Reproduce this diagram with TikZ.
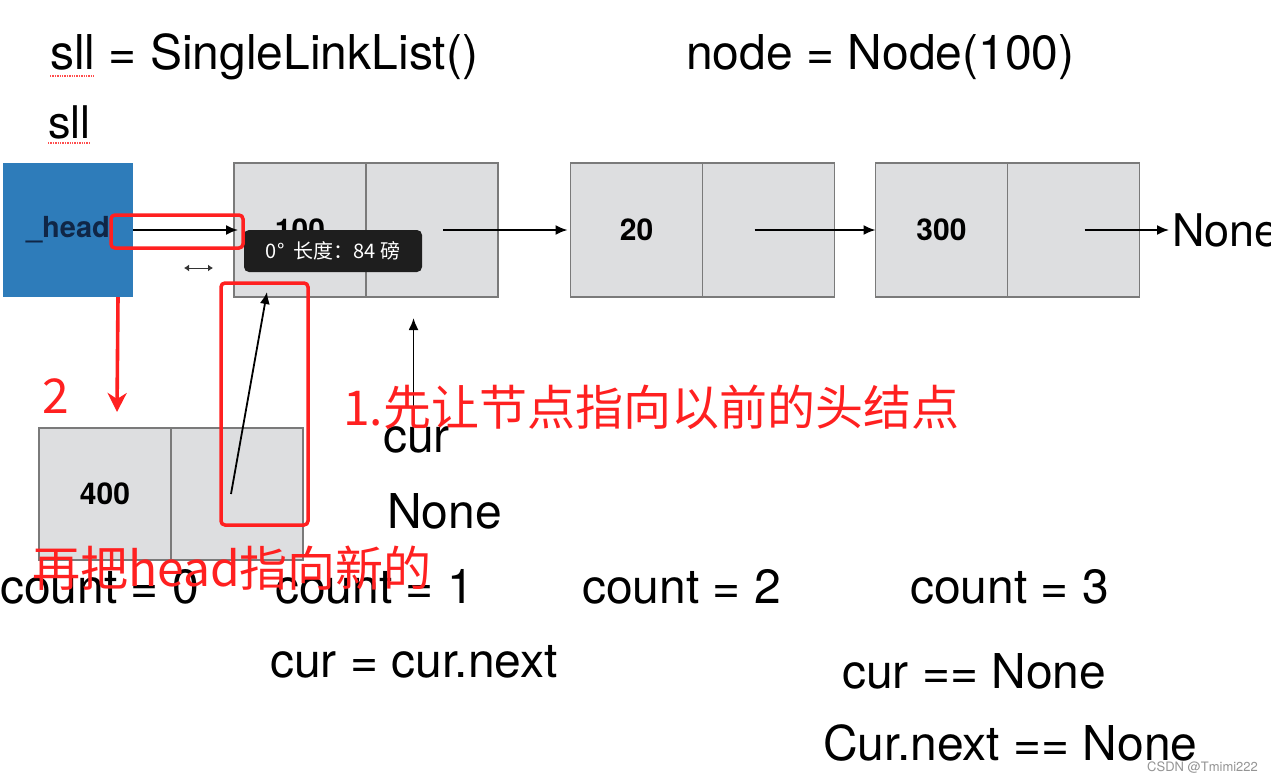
\documentclass[tikz,border=0pt]{standalone}
\usepackage{fontspec}
\setmainfont{TeX Gyre Heros}
\newfontfamily\cjkfont{Noto Sans CJK SC}
\usepackage{xcolor}
\usepackage{tikz}
\usetikzlibrary{arrows.meta,calc,positioning}
\definecolor{headblue}{RGB}{46,124,186}
\definecolor{headtext}{RGB}{16,38,70}
\definecolor{cellgray}{RGB}{221,222,224}
\definecolor{cellline}{RGB}{122,122,122}
\definecolor{markred}{RGB}{255,32,32}
\definecolor{tipblack}{RGB}{30,30,30}

\begin{document}
\begin{tikzpicture}[x=1pt, y=-1pt,
    cell/.style={draw=cellline, line width=1.8pt, fill=cellgray, outer sep=0pt, inner sep=0pt,
      minimum width=132pt, minimum height=134pt, font=\fontsize{30}{32}\selectfont\bfseries},
    code/.style={anchor=base west, inner sep=0pt, font=\fontsize{48}{50}\selectfont},
    note/.style={anchor=base west, inner sep=0pt, text=markred, font=\cjkfont\fontsize{48}{50}\selectfont},
    link/.style={-{Latex[length=12pt,width=10pt]}, line width=1.8pt},
    redlink/.style={-{Stealth[length=19pt,width=19pt,inset=6pt]}, line width=3.6pt, draw=markred},
    redframe/.style={draw=markred, line width=3.5pt, rounded corners=4pt}]
    % Page
    \useasboundingbox[fill=white] (0,0) rectangle (1271,781);

    % Code lines on top
    \node[code] (sllcall) at (50,70) {sll = SingleLinkList()};
    \node[code] (nodecall) at (686,70) {node = Node(100)};
    \node[code, font=\fontsize{45}{48}\selectfont] (sllname) at (48,139) {sll};
    \draw[markred!80, densely dotted, line width=1.4pt] ([yshift=-6pt]sllcall.base west) -- ++(44,0);
    \draw[markred!80, densely dotted, line width=1.4pt] ([yshift=-4pt]sllname.base west) -- ++(42,0);

    % Head box and the three list nodes
    \node[fill=headblue, minimum width=130pt, minimum height=134pt, inner sep=0pt, text=headtext,
      font=\fontsize{29}{31}\selectfont\bfseries] (head) at (68,230) {\_head};
    \foreach \name/\x/\val in {v100/300/100, v20/636.5/20, v300/941.5/300} {
      \node[cell] (\name) at (\x,230) {\val};
      \node[cell, right=0pt of \name] (\name-ptr) {};
    }
    \node[code, font=\fontsize{45}{48}\selectfont] (none1) at (1172,246) {None};

    % New node
    \node[cell, minimum height=132pt] (v400) at (105,494) {400};
    \node[cell, minimum height=132pt, right=0pt of v400] (v400-ptr) {};

    % Links
    \draw[link] ([xshift=65]head.center) -- ([xshift=4]v100.west);
    \draw[link] ([xshift=11]v100-ptr.center) -- ([xshift=-3]v20.west);
    \draw[link] ([xshift=-14]v20-ptr.center) -- (v300.west);
    \draw[link] ([xshift=11]v300-ptr.center) -- ([xshift=-3]none1.west |- v300-ptr.center);
    \draw[link] ([xshift=-6]v400-ptr.center) -- ([xshift=-33,yshift=5]v100.south);

    % Ruler tooltip
    \node[fill=tipblack, rounded corners=5pt, minimum width=178pt, minimum height=42pt, inner sep=0pt,
      text=white, font=\cjkfont\fontsize{20}{22}\selectfont] (tooltip) at (333,251) {0°\ \ 长度：84 磅};
    \coordinate (gapL) at (184,268);
    \coordinate (gapR) at (213,268);
    \draw[{Latex[length=5pt,width=7pt]}-{Latex[length=5pt,width=7pt]}, line width=1pt, black!80] (gapL) -- (gapR);

    % cur pointer and the counters
    \node[code] (curlbl) at (383,452) {cur};
    \node[code] (none2) at (387,528) {None};
    \coordinate (curtop) at (413,318);
    \draw[link] ([xshift=-3]curlbl.north) -- ([xshift=-3]curlbl.north |- curtop);
    \foreach \i/\x in {0/0, 1/275, 2/582, 3/910} {
      \node[code] (count\i) at (\x,603) {count = \i};
    }
    \node[code] (curstep) at (270,677) {cur = cur.next};
    \node[code] (curnone) at (842,688) {cur == None};
    \node[code] (nextnone) at (823,760) {Cur.next == None};

    % Red marks
    \draw[redframe] (111,215) rectangle (243,248);
    \draw[redframe] (221,283) rectangle (308,525);
    \coordinate (redtip) at (117,412);
    \draw[redlink] ([xshift=50]head.south) -- (redtip);
    \node[note] (step2) at (42,413) {2};
    \node[note] (step1) at (343,425) {1.先让节点指向以前的头结点};
    \node[note] (step2txt) at (32,586) {再把head指向新的};

    % Watermark
    \node[anchor=base west, inner sep=0pt, text=black!42, font=\fontsize{13}{14}\selectfont] (mark) at (1147,771) {CSDN @Tmimi222};
  \end{tikzpicture}
\end{document}
